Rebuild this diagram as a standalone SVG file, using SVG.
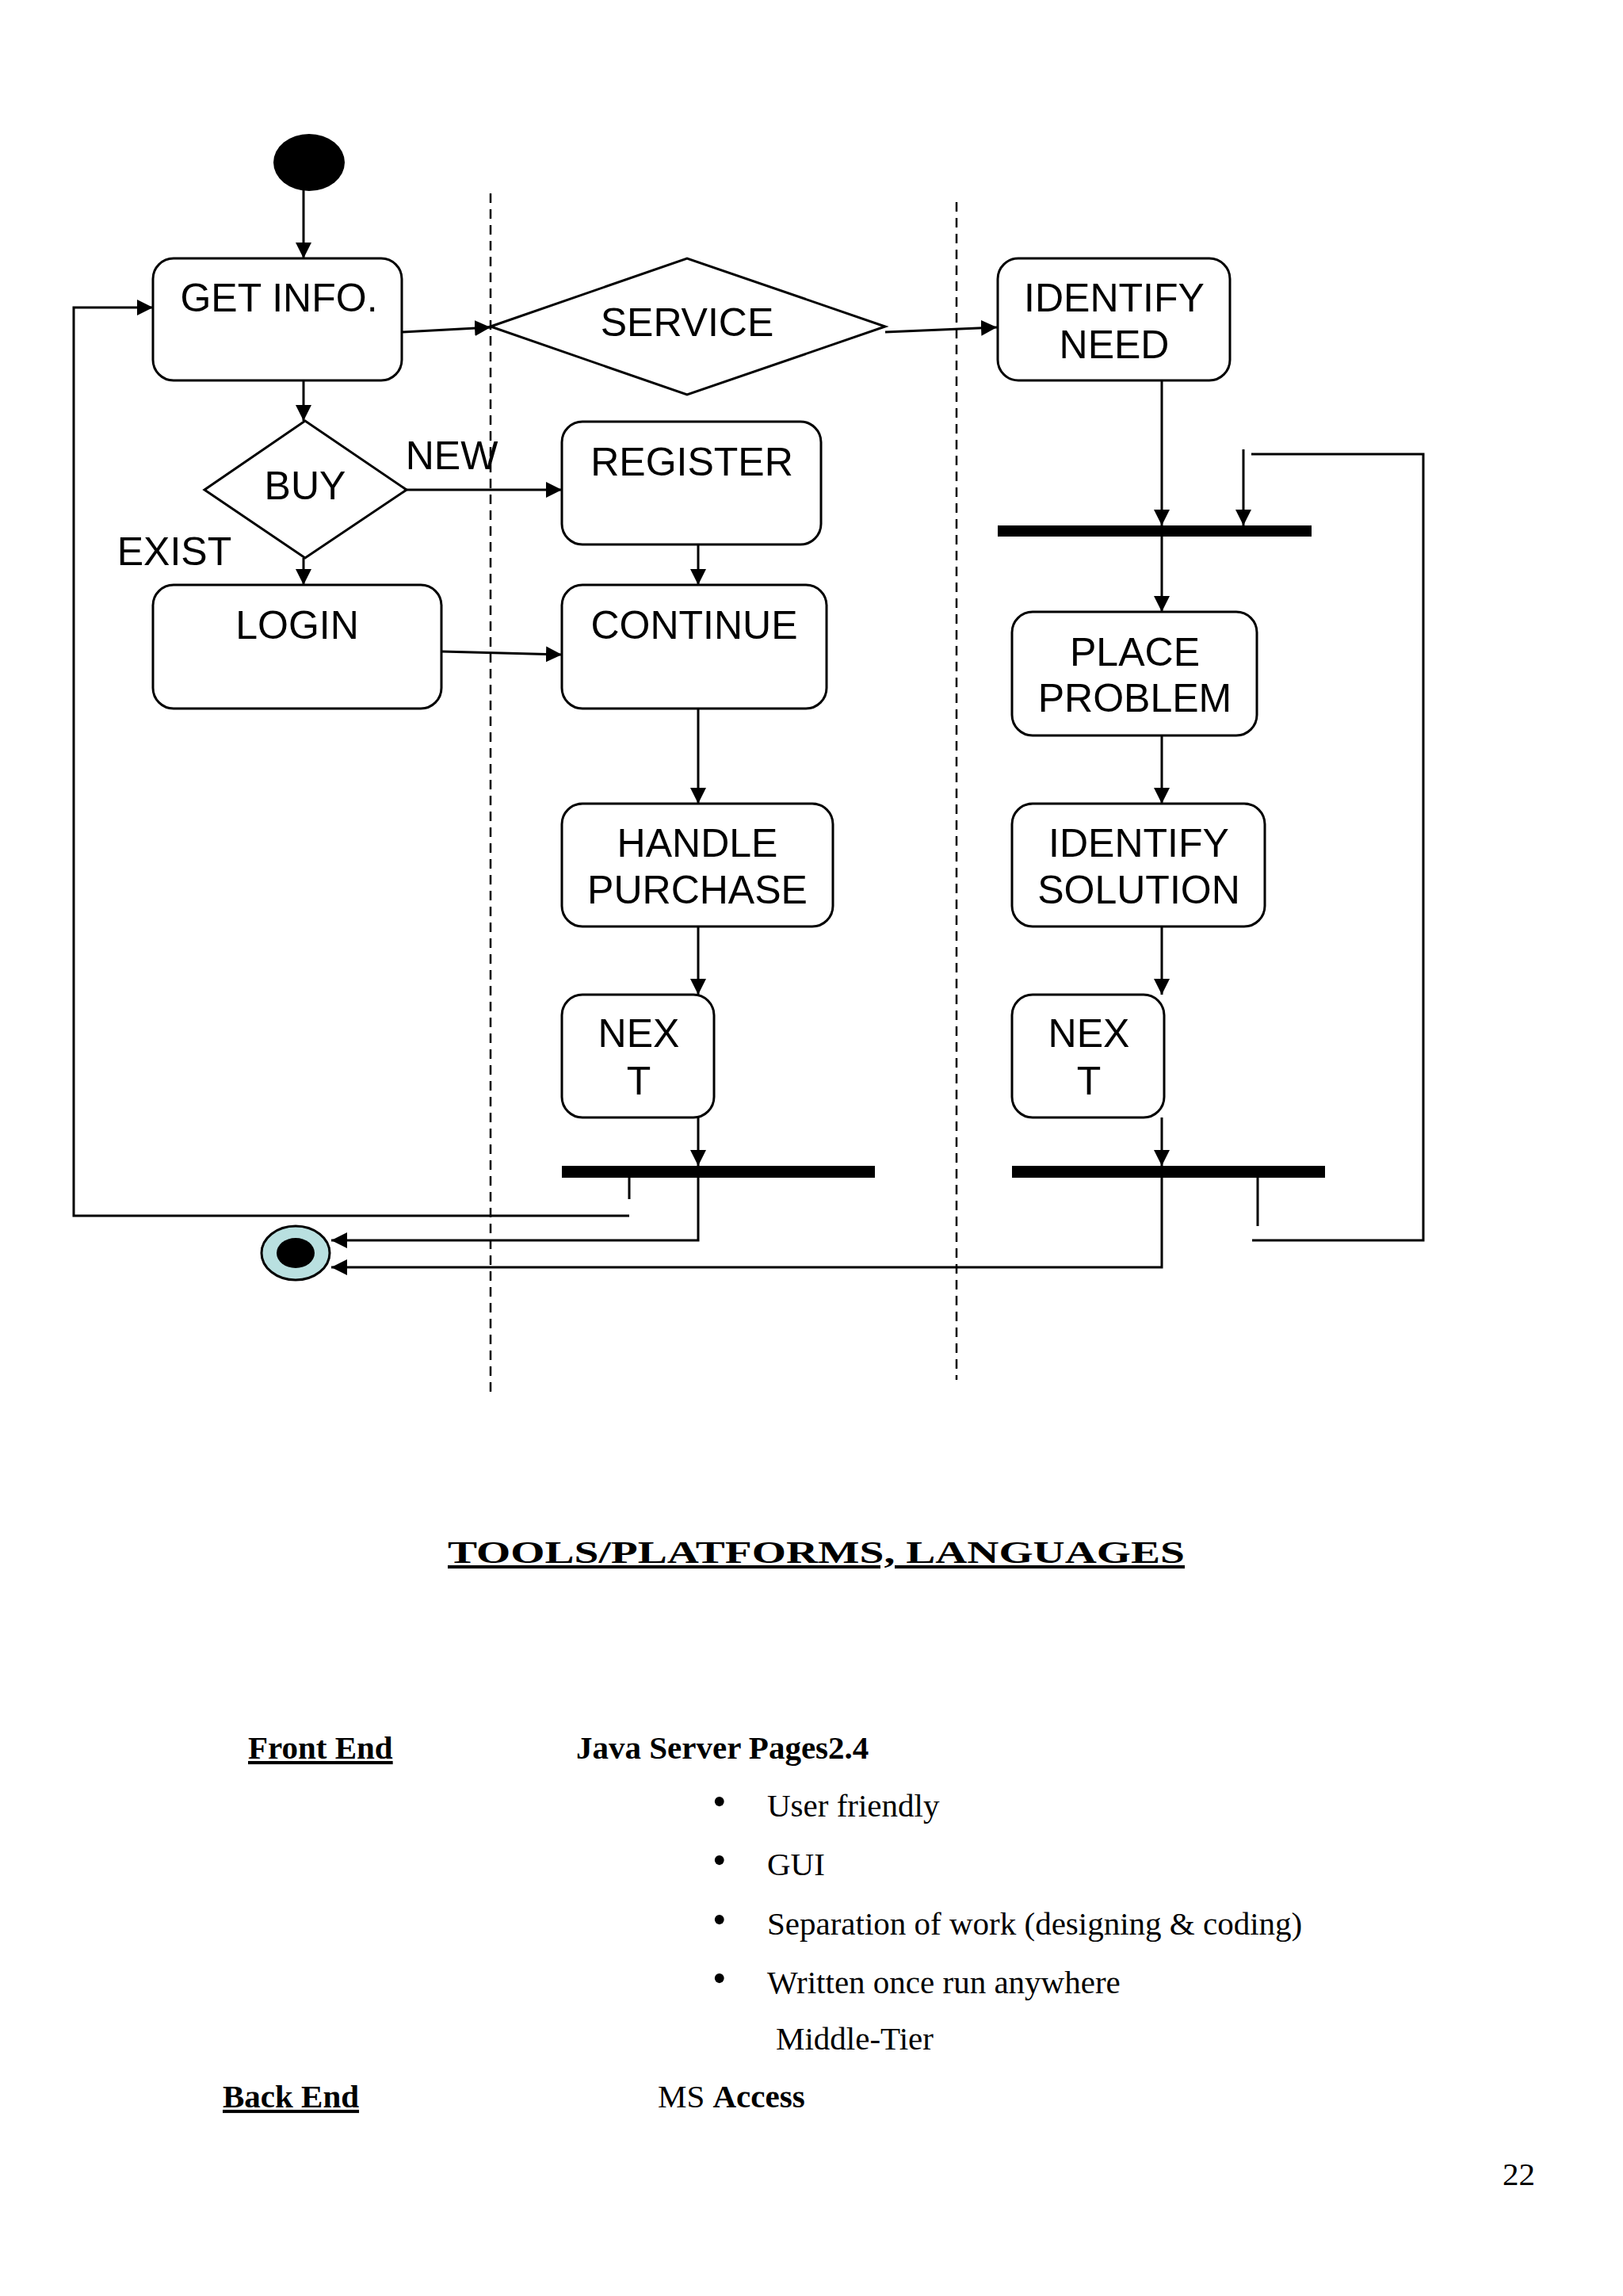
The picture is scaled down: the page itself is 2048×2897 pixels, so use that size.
<svg xmlns="http://www.w3.org/2000/svg" width="2048" height="2897" viewBox="0 0 2048 2897">
<style>
.n{fill:#fff;stroke:#000;stroke-width:3}
.t{font-family:"Liberation Sans",Arial,sans-serif;font-size:50px;text-anchor:middle;fill:#000}
.l{stroke:#000;stroke-width:3;fill:none}
.d{stroke:#000;stroke-width:2.5;stroke-dasharray:12 8;fill:none}
.bar{fill:#000}
.s{font-family:"Liberation Serif","Times New Roman",serif;font-size:41px;fill:#000}
.b{font-weight:bold}
</style>
<defs>
<marker id="ab" viewBox="0 0 10 10" refX="10" refY="5" markerWidth="20" markerHeight="20" markerUnits="userSpaceOnUse" orient="auto"><path d="M0,0L10,5L0,10z" fill="#000"/></marker>
</defs>
<rect width="2048" height="2897" fill="#fff"/>
<line class="d" x1="619" y1="244" x2="619" y2="1762"/>
<line class="d" x1="1207" y1="255" x2="1207" y2="1741"/>
<g id="connectors">
<path class="l" marker-end="url(#ab)" d="M383,240V326"/>
<path class="l" marker-end="url(#ab)" d="M507,419L619,413"/>
<path class="l" marker-end="url(#ab)" d="M1117,419L1258,413"/>
<path class="l" marker-end="url(#ab)" d="M383,480V531"/>
<path class="l" marker-end="url(#ab)" d="M513,618H709"/>
<path class="l" marker-end="url(#ab)" d="M383,704V738"/>
<path class="l" marker-end="url(#ab)" d="M881,687V738"/>
<path class="l" marker-end="url(#ab)" d="M557,822L709,826"/>
<path class="l" marker-end="url(#ab)" d="M881,894V1014"/>
<path class="l" marker-end="url(#ab)" d="M881,1169V1255"/>
<path class="l" marker-end="url(#ab)" d="M881,1410V1471"/>
<path class="l" d="M794,1486V1513"/>
<path class="l" marker-end="url(#ab)" d="M794,1534H93V388H193"/>
<path class="l" marker-end="url(#ab)" d="M881,1486V1565H418"/>
<path class="l" marker-end="url(#ab)" d="M1466,1486V1599H418"/>
<path class="l" marker-end="url(#ab)" d="M1466,480V663"/>
<path class="l" marker-end="url(#ab)" d="M1569,567V663"/>
<path class="l" d="M1579,573H1796V1565H1580"/>
<path class="l" d="M1587,1486V1547"/>
<path class="l" marker-end="url(#ab)" d="M1466,677V772"/>
<path class="l" marker-end="url(#ab)" d="M1466,928V1014"/>
<path class="l" marker-end="url(#ab)" d="M1466,1169V1255"/>
<path class="l" marker-end="url(#ab)" d="M1466,1410V1471"/>
</g>
<g id="start"><ellipse cx="390" cy="205" rx="45" ry="36" fill="#000"/></g>
<g id="getinfo"><rect class="n" x="193" y="326" width="314" height="154" rx="26"/><text class="t" x="352" y="393">GET INFO.</text></g>
<g id="service"><path class="n" d="M619,412L867,326L1117,412L867,498z"/><text class="t" x="867" y="424">SERVICE</text></g>
<g id="identifyneed"><rect class="n" x="1259" y="326" width="293" height="154" rx="26"/><text class="t" x="1406" y="393">IDENTIFY</text><text class="t" x="1406" y="452">NEED</text></g>
<g id="buy"><path class="n" d="M258,618L385,531L513,618L385,704z"/><text class="t" x="385" y="630">BUY</text></g>
<text class="t" x="570" y="592">NEW</text>
<text class="t" x="220" y="713">EXIST</text>
<g id="register"><rect class="n" x="709" y="532" width="327" height="155" rx="26"/><text class="t" x="873" y="600">REGISTER</text></g>
<g id="login"><rect class="n" x="193" y="738" width="364" height="156" rx="26"/><text class="t" x="375" y="806">LOGIN</text></g>
<g id="continue"><rect class="n" x="709" y="738" width="334" height="156" rx="26"/><text class="t" x="876" y="806">CONTINUE</text></g>
<g id="handle"><rect class="n" x="709" y="1014" width="342" height="155" rx="26"/><text class="t" x="880" y="1081">HANDLE</text><text class="t" x="880" y="1140">PURCHASE</text></g>
<g id="next1"><rect class="n" x="709" y="1255" width="192" height="155" rx="26"/><text class="t" x="806" y="1321">NEX</text><text class="t" x="806" y="1381">T</text></g>
<g id="bar1"><rect class="bar" x="709" y="1471" width="395" height="15"/></g>
<g id="bar0"><rect class="bar" x="1259" y="663" width="396" height="14"/></g>
<g id="placeproblem"><rect class="n" x="1277" y="772" width="309" height="156" rx="26"/><text class="t" x="1432" y="840">PLACE</text><text class="t" x="1432" y="898">PROBLEM</text></g>
<g id="identifysolution"><rect class="n" x="1277" y="1014" width="319" height="155" rx="26"/><text class="t" x="1437" y="1081">IDENTIFY</text><text class="t" x="1437" y="1140">SOLUTION</text></g>
<g id="next2"><rect class="n" x="1277" y="1255" width="192" height="155" rx="26"/><text class="t" x="1374" y="1321">NEX</text><text class="t" x="1374" y="1381">T</text></g>
<g id="bar2"><rect class="bar" x="1277" y="1471" width="395" height="15"/></g>
<g id="end"><ellipse cx="373" cy="1581" rx="43" ry="34" fill="#b9e0e0" stroke="#000" stroke-width="3"/><ellipse cx="373" cy="1581" rx="24" ry="19" fill="#000"/></g>
<text class="s b" x="565" y="1972" font-size="56" textLength="930" lengthAdjust="spacingAndGlyphs" text-decoration="underline">TOOLS/PLATFORMS, LANGUAGES</text>
<text class="s b" x="313" y="2219" text-decoration="underline">Front End</text>
<text class="s b" x="727" y="2219">Java Server Pages2.4</text>
<g class="s"><text x="899" y="2290" font-size="50">•</text><text x="968" y="2292">User friendly</text>
<text x="899" y="2364" font-size="50">•</text><text x="968" y="2366">GUI</text>
<text x="899" y="2439" font-size="50">•</text><text x="968" y="2441">Separation of work (designing &amp;  coding)</text>
<text x="899" y="2513" font-size="50">•</text><text x="968" y="2515">Written once run anywhere</text>
<text x="979" y="2586">Middle-Tier</text></g>
<text class="s b" x="281" y="2659" text-decoration="underline">Back End</text>
<text class="s" x="830" y="2659">MS <tspan class="b">Access</tspan></text>
<text class="s" x="1896" y="2757">22</text>
</svg>
